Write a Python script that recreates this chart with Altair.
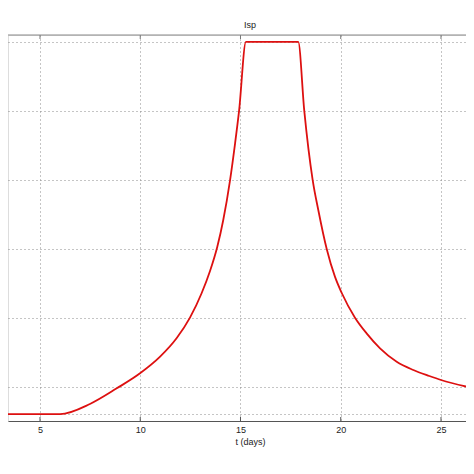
import altair as alt
import pandas as pd

# Curve
t_days = [3.40, 6.00, 7.49, 8.83, 9.99, 10.99, 11.82, 12.48, 13.06, 13.48, 13.84,
          14.14, 14.48, 14.73, 14.93, 15.27, 17.88, 18.18, 18.60, 18.88, 19.30,
          19.71, 20.05, 20.71, 21.29, 21.96, 22.79, 23.62, 24.42, 25.00, 26.65]
isp = [600, 600, 747, 974, 1192, 1433, 1703, 1999, 2353, 2676, 3024,
       3416, 3996, 4529, 5002, 6000, 6000, 5002, 3996, 3561, 2995,
       2594, 2357, 1999, 1772, 1555, 1360, 1240, 1153, 1095, 974]

x_ticks = [5, 10, 15, 20, 25]
y_ticks = [600, 1000, 2000, 3000, 4000, 5000, 6000]

W, H = 458, 386

df = pd.DataFrame({"t": t_days, "isp": isp})
tick_df = pd.DataFrame({"t": x_ticks})

xscale = alt.Scale(domain=[3.404, 26.247], nice=False, zero=False)
yscale = alt.Scale(domain=[500, 6100], nice=False, zero=False)

grid_common = dict(gridColor="#8a8a8a", gridDash=[1, 3], gridWidth=1)

line = alt.Chart(df).mark_line(
    color="#dd1010", strokeWidth=1.8, interpolate="monotone", clip=True
).encode(
    x=alt.X("t:Q", scale=xscale,
            axis=alt.Axis(values=x_ticks, title="t (days)", labelFont="Liberation Sans",
                          labelFontSize=9, labelColor="#222", ticks=False, labelPadding=4,
                          domainColor="#555", domainWidth=1.2, titleFont="Liberation Sans",
                          titleFontSize=9, titleFontWeight="normal", titleColor="#222",
                          titlePadding=3, titleX=242, titleAlign="center",
                          **grid_common)),
    y=alt.Y("isp:Q", scale=yscale,
            axis=alt.Axis(values=y_ticks, title=None, labels=False, ticks=False,
                          domain=False, **grid_common)),
)

bottom_ticks = alt.Chart(tick_df).mark_rule(color="#555", strokeWidth=1).encode(
    x=alt.X("t:Q", scale=xscale),
    y=alt.value(H - 4), y2=alt.value(H),
)
top_ticks = alt.Chart(tick_df).mark_rule(color="#777", strokeWidth=1).encode(
    x=alt.X("t:Q", scale=xscale),
    y=alt.value(0), y2=alt.value(4),
)
top_frame = alt.Chart(pd.DataFrame({"a": [0]})).mark_rule(color="#8a8a8a", strokeWidth=1.2).encode(
    x=alt.value(0), x2=alt.value(W), y=alt.value(0),
)

chart = alt.layer(line, bottom_ticks, top_ticks, top_frame).properties(
    width=W, height=H,
    autosize=alt.AutoSizeParams(type="none"),
    padding={"left": 0, "top": 27, "right": 0, "bottom": 40},
    title=alt.TitleParams("Isp", font="Liberation Sans", fontSize=9, fontWeight="normal",
                          color="#222", offset=4, dx=13),
).configure_view(stroke=None).configure(background="white")

chart.save("out.html", embed_options={"renderer": "svg", "actions": False})
